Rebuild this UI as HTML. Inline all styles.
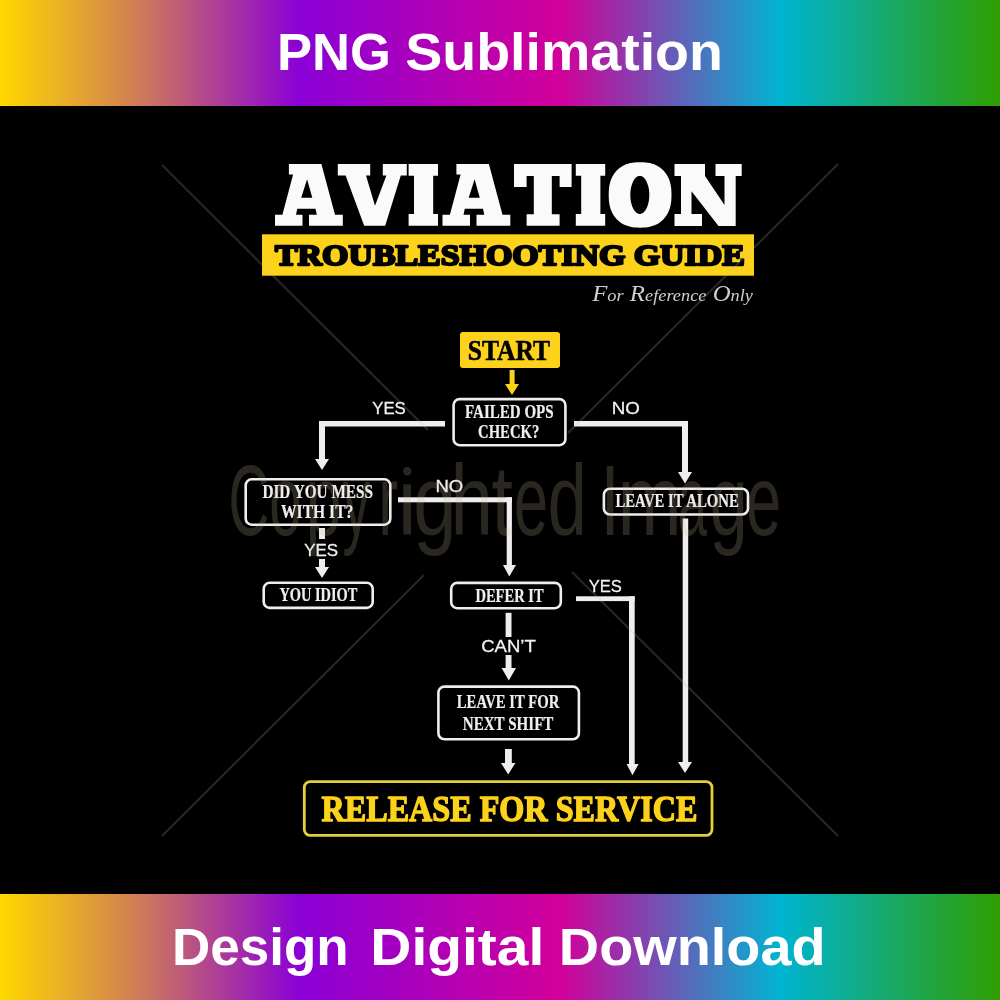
<!DOCTYPE html>
<html><head><meta charset="utf-8">
<style>
html,body{margin:0;padding:0;background:#000;width:1000px;height:1000px;overflow:hidden}
svg{display:block;will-change:transform}
.sans{font-family:"Liberation Sans",sans-serif}
.serif{font-family:"Liberation Serif",serif}
</style></head>
<body>
<svg width="1000" height="1000" viewBox="0 0 1000 1000">
<defs>
<linearGradient id="g" x1="0" y1="0" x2="1000" y2="0" gradientUnits="userSpaceOnUse">
<stop offset="0" stop-color="#FFD800"/>
<stop offset="0.125" stop-color="#D5864E"/>
<stop offset="0.30" stop-color="#8A00D6"/>
<stop offset="0.56" stop-color="#D2009A"/>
<stop offset="0.78" stop-color="#00B4D2"/>
<stop offset="1" stop-color="#2F9E00"/>
</linearGradient>
</defs>
<rect x="0" y="0" width="1000" height="1000" fill="#000"/>
<rect x="0" y="0" width="1000" height="106" fill="url(#g)"/>
<rect x="0" y="894" width="1000" height="106" fill="url(#g)"/>
<g fill="#FAFAFA" transform="translate(0 164) scale(1 1.01) translate(0 -164)"><path fill-rule="evenodd" d="M288.9,164.0 L321.4,164.0 L335.0,214.2 L342.8,214.2 L342.8,225.2 L309.0,225.2 L309.0,214.2 L316.8,214.2 L315.5,208.3 L297.3,208.3 L296.0,214.2 L302.5,214.2 L302.5,225.2 L275.0,225.2 L275.0,214.2 L282.4,214.2 L293.1,174.4 L288.9,174.4 Z M307.1,179.1 L312.3,197.3 L301.2,197.3 Z M337.8,164.0 L370.2,164.0 L370.2,175.4 L366.0,175.4 L375.0,205.4 L386.4,175.4 L382.8,175.4 L382.8,164.0 L406.8,164.0 L406.8,175.4 L400.8,175.4 L385.2,225.2 L364.2,225.2 L345.6,175.4 L337.8,175.4 Z M408.6,164.0 L438.0,164.0 L438.0,175.6 L433.2,175.6 L433.2,213.6 L438.0,213.6 L438.0,225.2 L408.6,225.2 L408.6,213.6 L414.0,213.6 L414.0,175.6 L408.6,175.6 Z M456.4,164.0 L488.9,164.0 L502.5,214.2 L510.3,214.2 L510.3,225.2 L476.5,225.2 L476.5,214.2 L484.3,214.2 L483.0,208.3 L464.8,208.3 L463.5,214.2 L470.0,214.2 L470.0,225.2 L442.5,225.2 L442.5,214.2 L449.9,214.2 L460.6,174.4 L456.4,174.4 Z M474.6,179.1 L479.8,197.3 L468.7,197.3 Z M514.0,164.0 L571.6,164.0 L571.6,186.8 L559.6,186.8 L559.6,176.0 L551.8,176.0 L551.8,213.8 L559.6,213.8 L559.6,225.2 L526.6,225.2 L526.6,213.8 L533.8,213.8 L533.8,176.0 L526.6,176.0 L526.6,186.8 L514.0,186.8 Z M575.8,164.0 L605.2,164.0 L605.2,175.6 L600.4,175.6 L600.4,213.6 L605.2,213.6 L605.2,225.2 L575.8,225.2 L575.8,213.6 L581.2,213.6 L581.2,175.6 L575.8,175.6 Z M674.5,164.0 L705.0,164.0 L705.0,176.0 L724.5,204.5 L724.5,176.0 L715.5,176.0 L715.5,164.0 L741.7,164.0 L741.7,176.0 L735.7,176.0 L735.7,225.5 L718.5,225.5 L691.5,191.0 L691.5,213.5 L702.0,213.5 L702.0,225.5 L674.5,225.5 L674.5,213.5 L681.0,213.5 L681.0,176.0 L674.5,176.0 Z M671.5,194.6 L671.4,197.8 L671.3,200.3 L671.0,202.7 L670.6,204.9 L670.1,206.9 L669.5,208.9 L668.7,210.8 L667.9,212.6 L666.9,214.2 L665.9,215.8 L664.7,217.3 L663.5,218.7 L662.1,220.0 L660.7,221.2 L659.1,222.3 L657.5,223.3 L655.8,224.1 L654.0,224.9 L652.1,225.5 L650.0,226.1 L647.9,226.5 L645.7,226.8 L643.2,226.9 L640.1,227.0 L637.0,226.9 L634.5,226.8 L632.3,226.5 L630.2,226.1 L628.1,225.5 L626.2,224.9 L624.4,224.1 L622.7,223.3 L621.1,222.3 L619.5,221.2 L618.1,220.0 L616.7,218.7 L615.5,217.3 L614.3,215.8 L613.3,214.2 L612.3,212.6 L611.5,210.8 L610.7,208.9 L610.1,206.9 L609.6,204.9 L609.2,202.7 L608.9,200.3 L608.8,197.8 L608.7,194.6 L608.8,191.4 L608.9,188.9 L609.2,186.5 L609.6,184.3 L610.1,182.3 L610.7,180.3 L611.5,178.4 L612.3,176.6 L613.3,175.0 L614.3,173.4 L615.5,171.9 L616.7,170.5 L618.1,169.2 L619.5,168.0 L621.1,166.9 L622.7,165.9 L624.4,165.1 L626.2,164.3 L628.1,163.7 L630.2,163.1 L632.3,162.7 L634.5,162.4 L637.0,162.3 L640.1,162.2 L643.2,162.3 L645.7,162.4 L647.9,162.7 L650.0,163.1 L652.1,163.7 L654.0,164.3 L655.8,165.1 L657.5,165.9 L659.1,166.9 L660.7,168.0 L662.1,169.2 L663.5,170.5 L664.7,171.9 L665.9,173.4 L666.9,175.0 L667.9,176.6 L668.7,178.4 L669.5,180.3 L670.1,182.3 L670.6,184.3 L671.0,186.5 L671.3,188.9 L671.4,191.4 Z M649.3,194.6 L649.3,195.8 L649.2,197.1 L649.1,198.3 L649.0,199.5 L648.8,200.6 L648.6,201.8 L648.3,202.9 L648.0,204.0 L647.7,205.0 L647.3,206.0 L646.9,207.0 L646.5,207.9 L646.1,208.7 L645.6,209.5 L645.1,210.2 L644.5,210.9 L644.0,211.5 L643.4,212.0 L642.9,212.4 L642.3,212.8 L641.7,213.0 L641.0,213.2 L640.4,213.4 L639.8,213.4 L639.2,213.4 L638.6,213.2 L637.9,213.0 L637.3,212.8 L636.7,212.4 L636.2,212.0 L635.6,211.5 L635.0,210.9 L634.5,210.2 L634.0,209.5 L633.5,208.7 L633.1,207.9 L632.7,207.0 L632.3,206.0 L631.9,205.0 L631.6,204.0 L631.3,202.9 L631.0,201.8 L630.8,200.6 L630.6,199.5 L630.5,198.3 L630.4,197.1 L630.3,195.8 L630.3,194.6 L630.3,193.4 L630.4,192.1 L630.5,190.9 L630.6,189.7 L630.8,188.6 L631.0,187.4 L631.3,186.3 L631.6,185.2 L631.9,184.2 L632.3,183.2 L632.7,182.2 L633.1,181.3 L633.5,180.5 L634.0,179.7 L634.5,179.0 L635.0,178.3 L635.6,177.7 L636.2,177.2 L636.7,176.8 L637.3,176.4 L637.9,176.2 L638.6,176.0 L639.2,175.8 L639.8,175.8 L640.4,175.8 L641.0,176.0 L641.7,176.2 L642.3,176.4 L642.9,176.8 L643.4,177.2 L644.0,177.7 L644.5,178.3 L645.1,179.0 L645.6,179.7 L646.1,180.5 L646.5,181.3 L646.9,182.2 L647.3,183.2 L647.7,184.2 L648.0,185.2 L648.3,186.3 L648.6,187.4 L648.8,188.6 L649.0,189.7 L649.1,190.9 L649.2,192.1 L649.3,193.4 Z"/></g>
<rect x="262" y="234.3" width="492" height="41.4" fill="#FDD21B"/>
<rect x="460" y="332" width="100" height="36" rx="3" fill="#FDD21B"/>
<rect x="509.6" y="370" width="5" height="14" fill="#FDD21B"/>
<polygon points="505,384 519,384 512,395" fill="#FDD21B"/>
<g fill="none" stroke="#EFEDED" stroke-width="2.6">
<rect x="453.6" y="399.1" width="111.8" height="46.1" rx="6"/>
<rect x="603.9" y="488.7" width="144.1" height="25.8" rx="6"/>
<rect x="245.7" y="479.3" width="144.6" height="45.4" rx="6"/>
<rect x="263.7" y="582.8" width="109" height="25.1" rx="6"/>
<rect x="451.2" y="582.9" width="109.6" height="25.3" rx="6"/>
<rect x="438.4" y="686.6" width="140.5" height="52.7" rx="6"/>
</g>
<rect x="304.3" y="781.6" width="407.7" height="53.8" rx="6" fill="none" stroke="#E2CF3E" stroke-width="2.8"/>
<g fill="#EFEDED">
<rect x="319" y="421" width="126" height="5.5"/>
<rect x="319" y="421" width="6" height="38"/>
<polygon points="315,459 329,459 322,470"/>
<rect x="574" y="421" width="114" height="5.5"/>
<rect x="682" y="421" width="6" height="51"/>
<polygon points="678,472 692,472 685,483.4"/>
<rect x="682.7" y="518.5" width="5.5" height="244"/>
<polygon points="678,762 692,762 685,773"/>
<rect x="319" y="528" width="6" height="11"/>
<rect x="319" y="559" width="6" height="8"/>
<polygon points="315,567 329,567 322,578"/>
<rect x="398" y="497.3" width="114" height="5"/>
<rect x="506.7" y="497.3" width="5.2" height="68"/>
<polygon points="503,565 516,565 509.3,576.5"/>
<rect x="505.6" y="612.8" width="5.9" height="24.2"/>
<rect x="505.6" y="655" width="5.9" height="13"/>
<polygon points="501.6,668 516,668 508.8,680.6"/>
<rect x="576" y="596.3" width="58.7" height="4.8"/>
<rect x="629" y="596.3" width="5.7" height="168"/>
<polygon points="626.5,764 638.6,764 632.5,775.2"/>
<rect x="505" y="749" width="6.8" height="14"/>
<polygon points="501,763 515.4,763 508.2,774.4"/>
</g>
<text class="sans" x="277.00" y="70.00" font-size="51.00" font-weight="bold" fill="#fff" textLength="114.00" lengthAdjust="spacingAndGlyphs">PNG</text>
<text class="sans" x="405.20" y="70.00" font-size="51.00" font-weight="bold" fill="#fff" textLength="317.80" lengthAdjust="spacingAndGlyphs">Sublimation</text>
<text class="sans" x="172.00" y="964.50" font-size="51.00" font-weight="bold" fill="#fff" textLength="176.68" lengthAdjust="spacingAndGlyphs">Design</text>
<text class="sans" x="370.32" y="964.50" font-size="51.00" font-weight="bold" fill="#fff" textLength="173.96" lengthAdjust="spacingAndGlyphs">Digital</text>
<text class="sans" x="558.82" y="964.50" font-size="51.00" font-weight="bold" fill="#fff" textLength="266.78" lengthAdjust="spacingAndGlyphs">Download</text>
<text class="serif" x="275.00" y="265.40" font-size="30.43" font-weight="bold" fill="#000" stroke="#000" stroke-width="2.30" stroke-linejoin="round" textLength="469.80" lengthAdjust="spacingAndGlyphs">TROUBLESHOOTING GUIDE</text>
<text class="serif" x="592.20" y="301.00" font-size="23.00" font-style="italic" fill="#CFCFCF" textLength="160.80" lengthAdjust="spacingAndGlyphs">F<tspan font-size="17">or</tspan> R<tspan font-size="17">eference</tspan> O<tspan font-size="17">nly</tspan></text>
<text class="serif" x="467.70" y="359.50" font-size="28.82" font-weight="bold" fill="#000" stroke="#000" stroke-width="0.60" stroke-linejoin="round" textLength="82.30" lengthAdjust="spacingAndGlyphs">START</text>
<text class="serif" x="465.00" y="417.60" font-size="18.50" font-weight="bold" fill="#F0EEEE" stroke="#F0EEEE" stroke-width="0.20" stroke-linejoin="round" textLength="88.60" lengthAdjust="spacingAndGlyphs">FAILED OPS</text>
<text class="serif" x="478.10" y="438.00" font-size="18.50" font-weight="bold" fill="#F0EEEE" stroke="#F0EEEE" stroke-width="0.20" stroke-linejoin="round" textLength="61.20" lengthAdjust="spacingAndGlyphs">CHECK?</text>
<text class="serif" x="615.40" y="507.40" font-size="18.50" font-weight="bold" fill="#F0EEEE" stroke="#F0EEEE" stroke-width="0.20" stroke-linejoin="round" textLength="123.50" lengthAdjust="spacingAndGlyphs">LEAVE IT ALONE</text>
<text class="serif" x="262.40" y="497.60" font-size="18.50" font-weight="bold" fill="#F0EEEE" stroke="#F0EEEE" stroke-width="0.20" stroke-linejoin="round" textLength="110.60" lengthAdjust="spacingAndGlyphs">DID YOU MESS</text>
<text class="serif" x="281.00" y="518.00" font-size="18.50" font-weight="bold" fill="#F0EEEE" stroke="#F0EEEE" stroke-width="0.20" stroke-linejoin="round" textLength="72.40" lengthAdjust="spacingAndGlyphs">WITH IT?</text>
<text class="serif" x="279.40" y="601.40" font-size="18.50" font-weight="bold" fill="#F0EEEE" stroke="#F0EEEE" stroke-width="0.20" stroke-linejoin="round" textLength="78.00" lengthAdjust="spacingAndGlyphs">YOU IDIOT</text>
<text class="serif" x="475.40" y="601.60" font-size="18.50" font-weight="bold" fill="#F0EEEE" stroke="#F0EEEE" stroke-width="0.20" stroke-linejoin="round" textLength="68.20" lengthAdjust="spacingAndGlyphs">DEFER IT</text>
<text class="serif" x="456.70" y="708.10" font-size="18.50" font-weight="bold" fill="#F0EEEE" stroke="#F0EEEE" stroke-width="0.20" stroke-linejoin="round" textLength="102.80" lengthAdjust="spacingAndGlyphs">LEAVE IT FOR</text>
<text class="serif" x="462.80" y="729.60" font-size="18.50" font-weight="bold" fill="#F0EEEE" stroke="#F0EEEE" stroke-width="0.20" stroke-linejoin="round" textLength="90.60" lengthAdjust="spacingAndGlyphs">NEXT SHIFT</text>
<text class="serif" x="321.50" y="821.00" font-size="36.30" font-weight="bold" fill="#FDD21B" stroke="#FDD21B" stroke-width="1.40" stroke-linejoin="round" textLength="376.00" lengthAdjust="spacingAndGlyphs">RELEASE FOR SERVICE</text>
<text class="sans" x="372.20" y="414.10" font-size="17.20" fill="#F2F0F0" stroke="#F2F0F0" stroke-width="0.30" stroke-linejoin="round" textLength="33.60" lengthAdjust="spacingAndGlyphs">YES</text>
<text class="sans" x="611.80" y="414.10" font-size="17.20" fill="#F2F0F0" stroke="#F2F0F0" stroke-width="0.30" stroke-linejoin="round" textLength="28.10" lengthAdjust="spacingAndGlyphs">NO</text>
<text class="sans" x="304.20" y="555.50" font-size="17.20" fill="#F2F0F0" stroke="#F2F0F0" stroke-width="0.30" stroke-linejoin="round" textLength="33.90" lengthAdjust="spacingAndGlyphs">YES</text>
<text class="sans" x="435.40" y="491.90" font-size="17.20" fill="#F2F0F0" stroke="#F2F0F0" stroke-width="0.30" stroke-linejoin="round" textLength="27.80" lengthAdjust="spacingAndGlyphs">NO</text>
<text class="sans" x="481.20" y="652.00" font-size="17.20" fill="#F2F0F0" stroke="#F2F0F0" stroke-width="0.30" stroke-linejoin="round" textLength="54.50" lengthAdjust="spacingAndGlyphs">CAN’T</text>
<text class="sans" x="588.80" y="591.50" font-size="17.20" fill="#F2F0F0" stroke="#F2F0F0" stroke-width="0.30" stroke-linejoin="round" textLength="33.10" lengthAdjust="spacingAndGlyphs">YES</text>
<g opacity="0.2">
<g stroke="#D0BCA0" stroke-width="2.1">
<line x1="162" y1="165" x2="428" y2="430"/>
<line x1="838" y1="164" x2="568" y2="433"/>
<line x1="162" y1="836" x2="424" y2="575"/>
<line x1="838" y1="836" x2="572" y2="572"/>
</g>
<g class="sans" font-size="100" fill="#D0BCA0"><text x="0" y="0" transform="translate(228.44 534.50) scale(0.564 1)">C</text><text x="0" y="0" transform="translate(269.35 534.50) scale(0.585 1)">o</text><text x="0" y="0" transform="translate(305.84 534.50) scale(0.645 1)">p</text><text x="0" y="0" transform="translate(342.47 534.50) scale(0.553 1)">y</text><text x="0" y="0" transform="translate(378.40 534.50) scale(0.588 1)">r</text><rect x="403.3" y="484.3" width="7.7" height="50.2"/><circle cx="407.3" cy="471.2" r="4.2"/><text x="0" y="0" transform="translate(413.33 534.50) scale(0.778 1)">g</text><text x="0" y="0" transform="translate(450.51 534.50) scale(0.763 1)">h</text><text x="0" y="0" transform="translate(491.54 534.50) scale(0.768 1)">t</text><text x="0" y="0" transform="translate(513.90 534.50) scale(0.612 1)">e</text><text x="0" y="0" transform="translate(547.86 534.50) scale(0.700 1)">d</text><text x="0" y="0" transform="translate(600.47 534.50) scale(0.686 1)">I</text><text x="0" y="0" transform="translate(617.48 534.50) scale(0.771 1)">m</text><text x="0" y="0" transform="translate(677.77 534.50) scale(0.526 1)">a</text><text x="0" y="0" transform="translate(709.74 534.50) scale(0.680 1)">g</text><text x="0" y="0" transform="translate(745.91 534.50) scale(0.633 1)">e</text></g>
</g>

</svg>
</body></html>
